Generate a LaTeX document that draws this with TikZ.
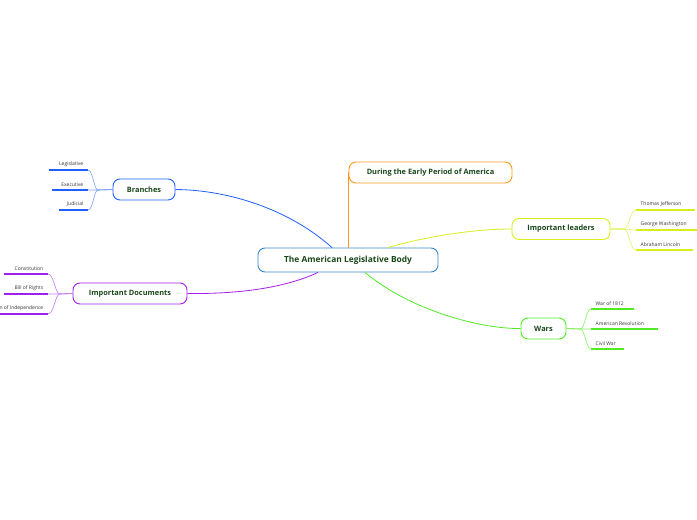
\documentclass[tikz,border=0pt]{standalone}
\usepackage{fontspec}
\setmainfont{Open Sans}
\begin{document}
\begin{tikzpicture}[x=1pt,y=-1pt,
 topic/.style={draw,rounded corners=7pt,line width=0.9pt,minimum height=21pt,inner xsep=6pt,font=\fontsize{7.4}{8}\selectfont\bfseries,text=green!20!black!90},
 sub/.style={font=\fontsize{5}{5.5}\selectfont,text=black!80,anchor=south west,inner sep=0.5pt},
 line/.style={line width=0.8pt}]
\useasboundingbox (0,0) rectangle (697,520);
\definecolor{cb}{HTML}{1F5EFF}\definecolor{cp}{HTML}{A21EEB}\definecolor{co}{HTML}{FF9A1E}
\definecolor{cy}{HTML}{D8EE1A}\definecolor{cg}{HTML}{52EA24}\definecolor{cc}{HTML}{3A86D0}
\node[topic,draw=cc,minimum width=180pt,minimum height=24pt,font=\fontsize{8.4}{9}\selectfont\bfseries] (c) at (348,260) {The American Legislative Body};
\node[topic,draw=cb,minimum width=62pt] (br) at (144,189.5) {Branches};
\node[topic,draw=cp,minimum width=114pt] (doc) at (130,293.5) {Important Documents};
\node[topic,draw=co,minimum width=163pt] (ep) at (430.5,172.5) {During the Early Period of America};
\node[topic,draw=cy,minimum width=98pt] (il) at (561,229) {Important leaders};
\node[topic,draw=cg,minimum width=45pt] (w) at (543.5,328.5) {Wars};
% main connectors
\draw[line,cb] ([xshift=-16pt]c.north) .. controls (290,210) and (230,190) .. (br.east);
\draw[line,cp] ([xshift=-30pt]c.south) .. controls (280,290) and (230,294) .. (doc.east);
\draw[line,co] (c.north) -- (c.north|-ep.west) -- (ep.west);
\draw[line,cy] ([xshift=40pt]c.north) .. controls (420,238) and (470,229) .. (il.west);
\draw[line,cg] ([xshift=17pt]c.south) .. controls (410,310) and (480,329) .. (w.west);
% Branches subs
\foreach \t/\y/\a in {Legislative/170/49,Executive/190/52,Judicial/210/59}{
 \node[sub,anchor=south east] at (84,\y-3) {\t};
 \draw[line,cb,line width=1.4pt] (\a,\y) -- (88,\y);
 \draw[cb!60,line width=0.6pt] (br.west) -- (98,190) .. controls (94,190) and (93,\y) .. (88,\y);
}
% Documents subs
\foreach \t/\y/\a in {Constitution/274/4,Bill of Rights/294/4,Declaration of Independence/314/0}{
 \node[sub,anchor=south east] at (44,\y-3) {\t};
 \draw[line,cp,line width=1.4pt] (\a,\y) -- (48,\y);
 \draw[cp!60,line width=0.6pt] (doc.west) -- (60,294) .. controls (55,294) and (54,\y) .. (48,\y);
}
% Leaders subs
\foreach \t/\y/\b in {Thomas Jefferson/210/695,George Washington/230/697,Abraham Lincoln/250/693}{
 \node[sub] at (640,\y-3) {\t};
 \draw[line,cy,line width=1.4pt] (636,\y) -- (\b,\y);
 \draw[cy!70,line width=0.6pt] (il.east) -- (624,229) .. controls (629,229) and (630,\y) .. (636,\y);
}
% Wars subs
\foreach \t/\y/\b in {War of 1812/309/634,American Revolution/329/658,Civil War/349/624}{
 \node[sub] at (595,\y-3) {\t};
 \draw[line,cg,line width=1.4pt] (591,\y) -- (\b,\y);
 \draw[cg!70,line width=0.6pt] (w.east) -- (580,329) .. controls (585,329) and (586,\y) .. (591,\y);
}
\end{tikzpicture}
\end{document}
